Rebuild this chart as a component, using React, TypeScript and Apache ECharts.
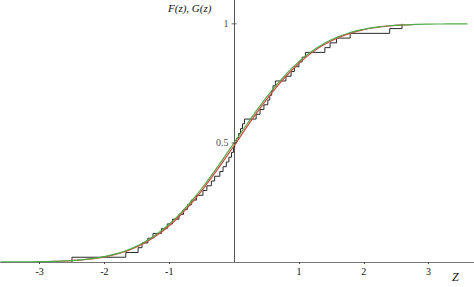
import React, { useEffect, useRef } from "react";
import * as echarts from "echarts";

// Grid of z values for the smooth curves
const greenZ = [-3.6,-3.4,-3.2,-3.0,-2.8,-2.6,-2.4,-2.2,-2.0,-1.8,-1.6,-1.4,-1.2,-1.0,-0.8,-0.6,-0.4,-0.2,0,0.2,0.4,0.6,0.8,1.0,1.2,1.4,1.6,1.8,2.0,2.2,2.4,2.6,2.8,3.0,3.2,3.4,3.6];
const greenF = [0.0002,0.0003,0.0007,0.0013,0.0026,0.0047,0.0082,0.0139,0.0228,0.0359,0.0548,0.0808,0.1151,0.1587,0.2119,0.2743,0.3446,0.4207,0.5,0.5793,0.6554,0.7257,0.7881,0.8413,0.8849,0.9192,0.9452,0.9641,0.9772,0.9861,0.9918,0.9953,0.9974,0.9987,0.9993,0.9997,0.9998];

const redZ = [-2.8,-2.6,-2.4,-2.2,-2.0,-1.8,-1.6,-1.4,-1.2,-1.0,-0.8,-0.6,-0.4,-0.2,0,0.2,0.4,0.6,0.8,1.0,1.2,1.4,1.6,1.8,2.0,2.2,2.4,2.6,2.8];
const redF = [0.0023,0.0043,0.0075,0.0128,0.0212,0.0338,0.0518,0.0768,0.1100,0.1524,0.2044,0.2655,0.3350,0.4100,0.4880,0.5680,0.6450,0.7160,0.7800,0.8340,0.8790,0.9145,0.9415,0.9612,0.9752,0.9847,0.9909,0.9948,0.9971];

// Sorted sample (empirical CDF jumps)
const sampleZ = [-2.50,-1.67,-1.48,-1.42,-1.33,-1.25,-1.12,-1.03,-0.95,-0.85,-0.78,-0.72,-0.66,-0.58,-0.48,-0.42,-0.35,-0.30,-0.22,-0.17,-0.12,-0.08,-0.04,-0.01,0.01,0.04,0.07,0.10,0.13,0.16,0.34,0.40,0.46,0.52,0.55,0.58,0.60,0.64,0.80,0.88,0.93,1.00,1.05,1.10,1.40,1.48,1.58,1.79,2.40,2.59];

const xTicks = [-3, -2, -1, 1, 2, 3];
const yTicks = [0.5, 1];
const yTickLabels = ["0.5", "1"];

export default function App() {
  const ref = useRef<HTMLDivElement>(null);
  useEffect(() => {
    document.body.style.margin = "0";
    const chart = echarts.init(ref.current!, null, { renderer: "svg" });
    const n = sampleZ.length;
    const ecdf: number[][] = [[sampleZ[0], 0]];
    sampleZ.forEach((z, i) => ecdf.push([z, (i + 1) / n]));
    const serif = "'Liberation Serif', 'DejaVu Serif', serif";
    chart.setOption({
      animation: false,
      backgroundColor: "#ffffff",
      grid: { left: 0, right: 0, top: 0, bottom: 25, containLabel: false, outerBoundsMode: "none" },
      xAxis: {
        type: "value",
        min: -3.61,
        max: 3.7,
        splitLine: { show: false },
        axisLine: { onZero: true, lineStyle: { color: "#777", width: 1 } },
        axisTick: { show: true, length: 2, customValues: xTicks, lineStyle: { color: "#444" } },
        axisLabel: { customValues: xTicks, color: "#111", fontFamily: serif, fontSize: 10, margin: 4 },
      },
      yAxis: {
        type: "value",
        min: 0,
        max: 1.1,
        splitLine: { show: false },
        axisLine: { onZero: true, lineStyle: { color: "#555", width: 1 } },
        axisTick: { show: false },
        axisLabel: { show: false },
      },
      series: [
        {
          type: "line",
          data: ecdf,
          step: "end",
          showSymbol: false,
          lineStyle: { color: "#2a2a2a", width: 1 },
          z: 2,
        },
        {
          type: "line",
          data: redZ.map((z, i) => [z, redF[i]]),
          smooth: true,
          showSymbol: false,
          lineStyle: { color: "#d9473a", width: 1.2 },
          z: 3,
        },
        {
          type: "line",
          data: greenZ.map((z, i) => [z, greenF[i]]),
          smooth: true,
          showSymbol: false,
          lineStyle: { color: "#4faa4a", width: 1.2 },
          z: 4,
        },
        {
          type: "scatter",
          data: yTicks.map((v, i) => ({ value: [0, v], name: yTickLabels[i] })),
          symbol: "rect",
          symbolSize: [5, 1],
          itemStyle: { color: "#444" },
          silent: true,
          label: {
            show: true,
            position: "left",
            distance: 3,
            formatter: (p: any) => p.name,
            color: "#111",
            fontFamily: serif,
            fontSize: 10,
          },
          z: 5,
        },
      ],
      graphic: [
        {
          type: "text",
          left: 168,
          top: 2,
          style: { text: "F(z), G(z)", font: "italic 11px " + serif, fill: "#111" },
        },
        {
          type: "text",
          left: 452,
          top: 271,
          style: { text: "Z", font: "italic 12px " + serif, fill: "#111" },
        },
      ],
    });
    return () => chart.dispose();
  }, []);
  return <div ref={ref} style={{ position: "absolute", left: 0, top: 0, width: 474, height: 287 }} />;
}
